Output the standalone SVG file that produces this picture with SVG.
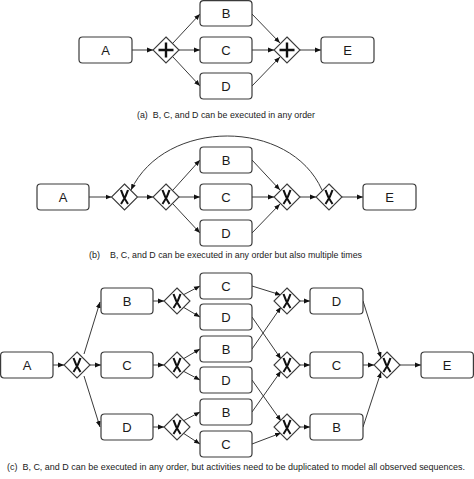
<svg xmlns="http://www.w3.org/2000/svg" width="474" height="479" viewBox="0 0 474 479">
<style>
.box{fill:#fff;stroke:#3a3a3a;stroke-width:1.2}
.gw{fill:#fff;stroke:#3a3a3a;stroke-width:1.1}
.lbl{font-family:"Liberation Sans",Arial,sans-serif;font-size:13px;fill:#1a1a1a;text-anchor:middle;dominant-baseline:central}
.cap{font-family:"Liberation Sans",Arial,sans-serif;font-size:9px;fill:#1a1a1a}
.con{fill:none;stroke:#3a3a3a;stroke-width:1;marker-end:url(#ah)}
.mk{fill:none;stroke:#111;stroke-width:2.4}
.x{fill:none;stroke:#111;stroke-width:2.1}
</style>
<defs>
<marker id="ah" viewBox="0 0 6 6" refX="6" refY="3" markerWidth="6" markerHeight="6" markerUnits="userSpaceOnUse" orient="auto">
<path d="M0,0.6 L6,3 L0,5.4 Z" fill="#111"/>
</marker>
<path id="dia" class="gw" d="M0,-13 L13,0 L0,13 L-13,0 Z"/>
<g id="xg"><use href="#dia"/><path class="x" d="M-3.5,-7 Q-1.5,0 3.5,7 M3.5,-7 Q1.5,0 -3.5,7"/></g>
<g id="pg"><use href="#dia"/><path class="mk" d="M-7.5,0 H7.5 M0,-7.5 V7.5"/></g>
</defs>

<!-- (a) -->
<g id="connectors-a">
<path class="con" d="M132,50 H153"/>
<path class="con" d="M173,43 L200,14"/>
<path class="con" d="M179,50 H200"/>
<path class="con" d="M173,57 L200,86"/>
<path class="con" d="M252,14 L280,43"/>
<path class="con" d="M252,50 H274"/>
<path class="con" d="M252,86 L280,57"/>
<path class="con" d="M300,50 H321"/>
</g>
<g id="a-A"><rect class="box" x="79" y="37" width="53" height="26" rx="3.5"/><text class="lbl" x="105.5" y="50">A</text></g>
<g id="a-G1"><use href="#pg" x="166" y="50"/></g>
<g id="a-B"><rect class="box" x="200" y="0.6" width="52" height="25.4" rx="3.5"/><text class="lbl" x="226" y="13">B</text></g>
<g id="a-C"><rect class="box" x="200" y="37" width="52" height="26" rx="3.5"/><text class="lbl" x="226" y="50">C</text></g>
<g id="a-D"><rect class="box" x="200" y="73" width="52" height="26" rx="3.5"/><text class="lbl" x="226" y="86">D</text></g>
<g id="a-G2"><use href="#pg" x="287" y="50"/></g>
<g id="a-E"><rect class="box" x="321" y="37" width="53" height="26" rx="3.5"/><text class="lbl" x="347.5" y="50">E</text></g>
<text class="cap" x="137" y="118" xml:space="preserve" textLength="178" lengthAdjust="spacingAndGlyphs">(a)  B, C, and D can be executed in any order</text>

<!-- (b) -->
<g id="connectors-b">
<path class="con" d="M89,197 H111.5"/>
<path class="con" d="M137.5,197 H153"/>
<path class="con" d="M173,190 L200,160"/>
<path class="con" d="M179,197 H200"/>
<path class="con" d="M173,204 L200,233"/>
<path class="con" d="M252,160 L280,190"/>
<path class="con" d="M252,197 H274"/>
<path class="con" d="M252,233 L280,204"/>
<path class="con" d="M300,197 H316"/>
<path class="con" d="M342,197 H363"/>
<path class="con" d="M322,190 C290,118 165,118 131,190"/>
</g>
<g id="b-A"><rect class="box" x="37" y="184" width="52" height="26" rx="3.5"/><text class="lbl" x="63" y="197">A</text></g>
<g id="b-G1"><use href="#xg" x="124.5" y="197"/></g>
<g id="b-G2"><use href="#xg" x="166" y="197"/></g>
<g id="b-B"><rect class="box" x="200" y="147" width="52" height="26" rx="3.5"/><text class="lbl" x="226" y="160">B</text></g>
<g id="b-C"><rect class="box" x="200" y="184" width="52" height="26" rx="3.5"/><text class="lbl" x="226" y="197">C</text></g>
<g id="b-D"><rect class="box" x="200" y="220" width="52" height="26" rx="3.5"/><text class="lbl" x="226" y="233">D</text></g>
<g id="b-G3"><use href="#xg" x="287" y="197"/></g>
<g id="b-G4"><use href="#xg" x="329" y="197"/></g>
<g id="b-E"><rect class="box" x="363" y="184" width="53" height="26" rx="3.5"/><text class="lbl" x="389.5" y="197">E</text></g>
<text class="cap" x="89" y="258">(b)</text>
<text class="cap" x="110" y="258" textLength="252" lengthAdjust="spacingAndGlyphs">B, C, and D can be executed in any order but also multiple times</text>

<!-- (c) -->
<g id="connectors-c">
<path class="con" d="M53,365 H64"/>
<path class="con" d="M84,354 L100,302"/>
<path class="con" d="M90,365 H101"/>
<path class="con" d="M84,376 L100,427"/>
<path class="con" d="M153,301 H164"/>
<path class="con" d="M153,365 H164"/>
<path class="con" d="M153,427 H164"/>
<path class="con" d="M183,295 L200,286"/>
<path class="con" d="M183,307 L200,317"/>
<path class="con" d="M183,359 L200,349"/>
<path class="con" d="M183,371 L200,380"/>
<path class="con" d="M183,421 L200,412"/>
<path class="con" d="M183,433 L200,444"/>
<path class="con" d="M252,286 L281,295"/>
<path class="con" d="M252,349 L281,307"/>
<path class="con" d="M252,317 L281,359"/>
<path class="con" d="M252,412 L281,371"/>
<path class="con" d="M252,380 L281,421"/>
<path class="con" d="M252,444 L281,433"/>
<path class="con" d="M300,301 H310"/>
<path class="con" d="M300,365 H310"/>
<path class="con" d="M300,427 H310"/>
<path class="con" d="M363,301 L381,358"/>
<path class="con" d="M363,365 H374"/>
<path class="con" d="M363,427 L381,372"/>
<path class="con" d="M400,365 H421"/>
</g>
<g id="c-A"><rect class="box" x="0.6" y="352" width="52.4" height="26" rx="3.5"/><text class="lbl" x="27" y="365">A</text></g>
<g id="c-G1"><use href="#xg" x="77" y="365"/></g>
<g id="c-B"><rect class="box" x="101" y="288" width="52" height="26" rx="3.5"/><text class="lbl" x="127" y="301">B</text></g>
<g id="c-C"><rect class="box" x="101" y="352" width="52" height="26" rx="3.5"/><text class="lbl" x="127" y="365">C</text></g>
<g id="c-D"><rect class="box" x="101" y="414" width="52" height="26" rx="3.5"/><text class="lbl" x="127" y="427">D</text></g>
<g id="c-G2"><use href="#xg" x="177" y="301"/></g>
<g id="c-G3"><use href="#xg" x="177" y="365"/></g>
<g id="c-G4"><use href="#xg" x="177" y="427"/></g>
<g id="c-C1"><rect class="box" x="200" y="273" width="52" height="26" rx="3.5"/><text class="lbl" x="226" y="286">C</text></g>
<g id="c-D1"><rect class="box" x="200" y="304" width="52" height="26" rx="3.5"/><text class="lbl" x="226" y="317">D</text></g>
<g id="c-B2"><rect class="box" x="200" y="336" width="52" height="26" rx="3.5"/><text class="lbl" x="226" y="349">B</text></g>
<g id="c-D2"><rect class="box" x="200" y="367" width="52" height="26" rx="3.5"/><text class="lbl" x="226" y="380">D</text></g>
<g id="c-B3"><rect class="box" x="200" y="399" width="52" height="26" rx="3.5"/><text class="lbl" x="226" y="412">B</text></g>
<g id="c-C3"><rect class="box" x="200" y="431" width="52" height="26" rx="3.5"/><text class="lbl" x="226" y="444">C</text></g>
<g id="c-G5"><use href="#xg" x="287" y="301"/></g>
<g id="c-G6"><use href="#xg" x="287" y="365"/></g>
<g id="c-G7"><use href="#xg" x="287" y="427"/></g>
<g id="c-D3"><rect class="box" x="310" y="288" width="53" height="26" rx="3.5"/><text class="lbl" x="336.5" y="301">D</text></g>
<g id="c-C4"><rect class="box" x="310" y="352" width="53" height="26" rx="3.5"/><text class="lbl" x="336.5" y="365">C</text></g>
<g id="c-B4"><rect class="box" x="310" y="414" width="53" height="26" rx="3.5"/><text class="lbl" x="336.5" y="427">B</text></g>
<g id="c-G8"><use href="#xg" x="387" y="365"/></g>
<g id="c-E"><rect class="box" x="421" y="352" width="52.4" height="26" rx="3.5"/><text class="lbl" x="447" y="365">E</text></g>
<text class="cap" x="7" y="470" xml:space="preserve" textLength="458" lengthAdjust="spacingAndGlyphs">(c)  B, C, and D can be executed in any order, but activities need to be duplicated to model all observed sequences.</text>
</svg>
